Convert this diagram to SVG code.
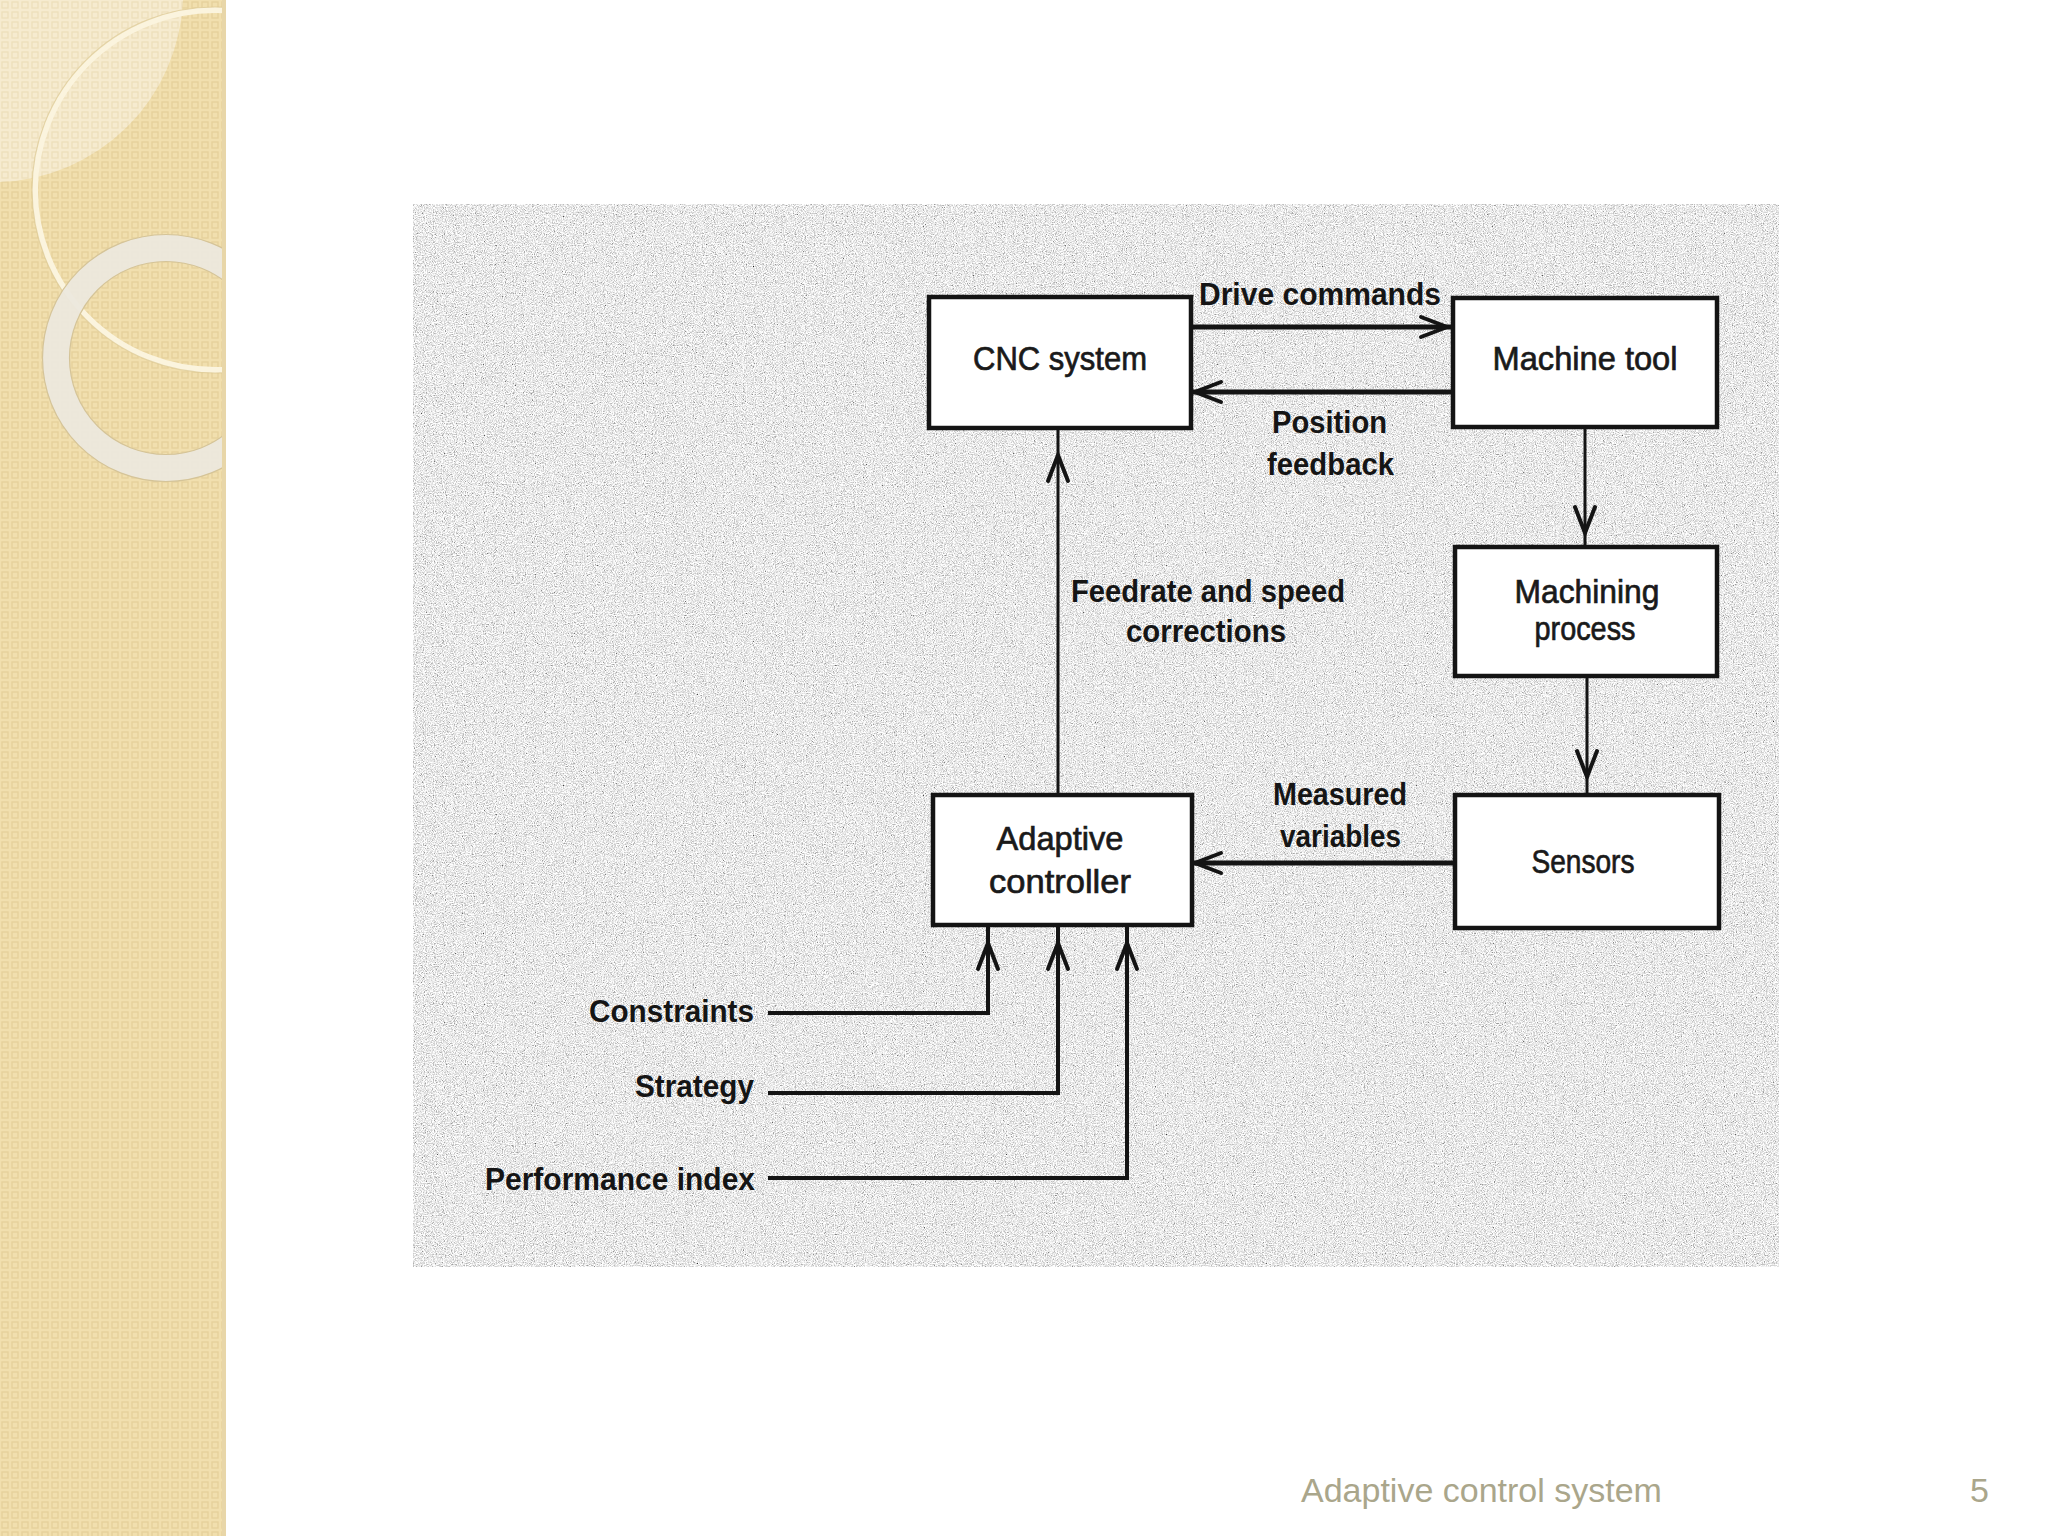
<svg xmlns="http://www.w3.org/2000/svg" xmlns:xlink="http://www.w3.org/1999/xlink" width="2048" height="1536" viewBox="0 0 2048 1536">
<style>
.box{fill:#ffffff;stroke:#141414;stroke-width:4.5}
.bl{font-family:"Liberation Sans",Arial,sans-serif;font-size:34px;fill:#1a1a1a;stroke:#1a1a1a;stroke-width:0.7;text-anchor:middle}
.cl{font-family:"Liberation Sans",Arial,sans-serif;font-size:32px;font-weight:bold;fill:#151515}
.thick{stroke:#141414;stroke-width:5;fill:none}
.thin{stroke:#141414;stroke-width:3;fill:none}
.mid{stroke:#141414;stroke-width:4;fill:none}
.ah{stroke:#141414;stroke-width:4;fill:none;stroke-linecap:round;stroke-linejoin:miter}
.foot{font-family:"Liberation Sans",Arial,sans-serif;font-size:34px;fill:#aaa68b}
</style>
<defs>
<pattern id="chk" width="10" height="10" patternUnits="userSpaceOnUse">
<rect width="10" height="10" fill="#f1dfae"/>
<rect x="2" y="2" width="6" height="6" fill="none" stroke="#e6d09a" stroke-width="1.3"/>
</pattern>
<pattern id="chkl" width="10" height="10" patternUnits="userSpaceOnUse">
<rect width="10" height="10" fill="#f6ebcf"/>
<rect x="2" y="2" width="6" height="6" fill="none" stroke="#eddfb9" stroke-width="1.2"/>
</pattern>
<clipPath id="side"><rect x="0" y="0" width="226" height="1536"/></clipPath>
<filter id="grain" x="0" y="0" width="100%" height="100%">
<feTurbulence type="fractalNoise" baseFrequency="0.9" numOctaves="3" seed="7" result="n"/>
<feColorMatrix in="n" type="matrix" values="0.33 0.33 0.33 0 0  0.33 0.33 0.33 0 0  0.33 0.33 0.33 0 0  0 0 0 0 1" result="g"/>
<feComponentTransfer in="g">
<feFuncR type="linear" slope="2.6" intercept="-0.47"/>
<feFuncG type="linear" slope="2.6" intercept="-0.47"/>
<feFuncB type="linear" slope="2.6" intercept="-0.47"/>
</feComponentTransfer>
<feComposite in2="SourceGraphic" operator="in"/>
</filter>
<path id="ahd" class="ah" d="M-26,-10 L0,0 L-26,10"/>
</defs>

<!-- slide background -->
<rect x="0" y="0" width="2048" height="1536" fill="#ffffff"/>
<g id="sidebar" clip-path="url(#side)">
<rect x="0" y="0" width="226" height="1536" fill="url(#chk)"/>
<path d="M0,0 H183 A190 190 0 0 1 0,182 Z" fill="url(#chkl)"/>
<circle cx="215" cy="190" r="180" fill="none" stroke="#fbf4de" stroke-width="6"/>
<circle cx="215" cy="190" r="183" fill="none" stroke="#dcc792" stroke-width="1.2" opacity="0.7"/>
<circle cx="166" cy="358" r="110" fill="none" stroke="#ece8dd" stroke-width="27" opacity="0.95"/>
<circle cx="166" cy="358" r="123.5" fill="none" stroke="#d5c498" stroke-width="1.2"/>
<circle cx="166" cy="358" r="96.5" fill="none" stroke="#d5c498" stroke-width="1.2"/>
<rect x="222" y="0" width="4" height="1536" fill="#e8d6a8"/>
</g>

<!-- scanned figure background -->
<g id="photo">
<rect x="413" y="204" width="1366" height="1063" fill="#000" filter="url(#grain)"/>
</g>

<g id="connectors">
<line class="thick" x1="1191" y1="327" x2="1453" y2="327"/>
<use xlink:href="#ahd" transform="translate(1447,327)"/>
<line class="thick" x1="1453" y1="392" x2="1191" y2="392"/>
<use xlink:href="#ahd" transform="translate(1195,392) rotate(180)"/>
<line class="thin" x1="1585" y1="427" x2="1585" y2="547"/>
<use xlink:href="#ahd" transform="translate(1585,533) rotate(90)"/>
<line class="thin" x1="1587" y1="676" x2="1587" y2="795"/>
<use xlink:href="#ahd" transform="translate(1587,777) rotate(90)"/>
<line class="thick" x1="1455" y1="863" x2="1192" y2="863"/>
<use xlink:href="#ahd" transform="translate(1195,863) rotate(180)"/>
<line class="thin" x1="1058" y1="795" x2="1058" y2="428"/>
<use xlink:href="#ahd" transform="translate(1058,455) rotate(-90)"/>
<path class="mid" d="M768,1013 H988 V925"/>
<use xlink:href="#ahd" transform="translate(988,943) rotate(-90)"/>
<path class="mid" d="M768,1093 H1058 V925"/>
<use xlink:href="#ahd" transform="translate(1058,943) rotate(-90)"/>
<path class="mid" d="M768,1178 H1127 V925"/>
<use xlink:href="#ahd" transform="translate(1127,943) rotate(-90)"/>
</g>

<g id="cnc">
<rect class="box" x="929" y="297" width="262" height="131"/>
<text class="bl" x="1060" y="370" textLength="174" lengthAdjust="spacingAndGlyphs">CNC system</text>
</g>
<g id="machine-tool">
<rect class="box" x="1453" y="298" width="264" height="129"/>
<text class="bl" x="1585" y="370" textLength="185" lengthAdjust="spacingAndGlyphs">Machine tool</text>
</g>
<g id="machining-process">
<rect class="box" x="1455" y="547" width="262" height="129"/>
<text class="bl" x="1587" y="603" textLength="145" lengthAdjust="spacingAndGlyphs">Machining</text>
<text class="bl" x="1585" y="640" textLength="101" lengthAdjust="spacingAndGlyphs">process</text>
</g>
<g id="sensors">
<rect class="box" x="1455" y="795" width="264" height="133"/>
<text class="bl" x="1583" y="873" textLength="103" lengthAdjust="spacingAndGlyphs">Sensors</text>
</g>
<g id="adaptive-controller">
<rect class="box" x="933" y="795" width="259" height="130"/>
<text class="bl" x="1060" y="850" textLength="127" lengthAdjust="spacingAndGlyphs">Adaptive</text>
<text class="bl" x="1060" y="893" textLength="142" lengthAdjust="spacingAndGlyphs">controller</text>
</g>

<g id="labels">
<text class="cl" x="1199" y="305" textLength="242" lengthAdjust="spacingAndGlyphs">Drive commands</text>
<text class="cl" x="1272" y="433" textLength="115" lengthAdjust="spacingAndGlyphs">Position</text>
<text class="cl" x="1267" y="475" textLength="127" lengthAdjust="spacingAndGlyphs">feedback</text>
<text class="cl" x="1071" y="602" textLength="274" lengthAdjust="spacingAndGlyphs">Feedrate and speed</text>
<text class="cl" x="1126" y="642" textLength="160" lengthAdjust="spacingAndGlyphs">corrections</text>
<text class="cl" x="1273" y="805" textLength="134" lengthAdjust="spacingAndGlyphs">Measured</text>
<text class="cl" x="1280" y="847" textLength="121" lengthAdjust="spacingAndGlyphs">variables</text>
<text class="cl" x="754" y="1022" text-anchor="end" textLength="165" lengthAdjust="spacingAndGlyphs">Constraints</text>
<text class="cl" x="754" y="1097" text-anchor="end" textLength="119" lengthAdjust="spacingAndGlyphs">Strategy</text>
<text class="cl" x="755" y="1190" text-anchor="end" textLength="270" lengthAdjust="spacingAndGlyphs">Performance index</text>
</g>

<g id="footer">
<text class="foot" x="1301" y="1502">Adaptive control system</text>
<text class="foot" x="1989" y="1502" text-anchor="end">5</text>
</g>
</svg>
